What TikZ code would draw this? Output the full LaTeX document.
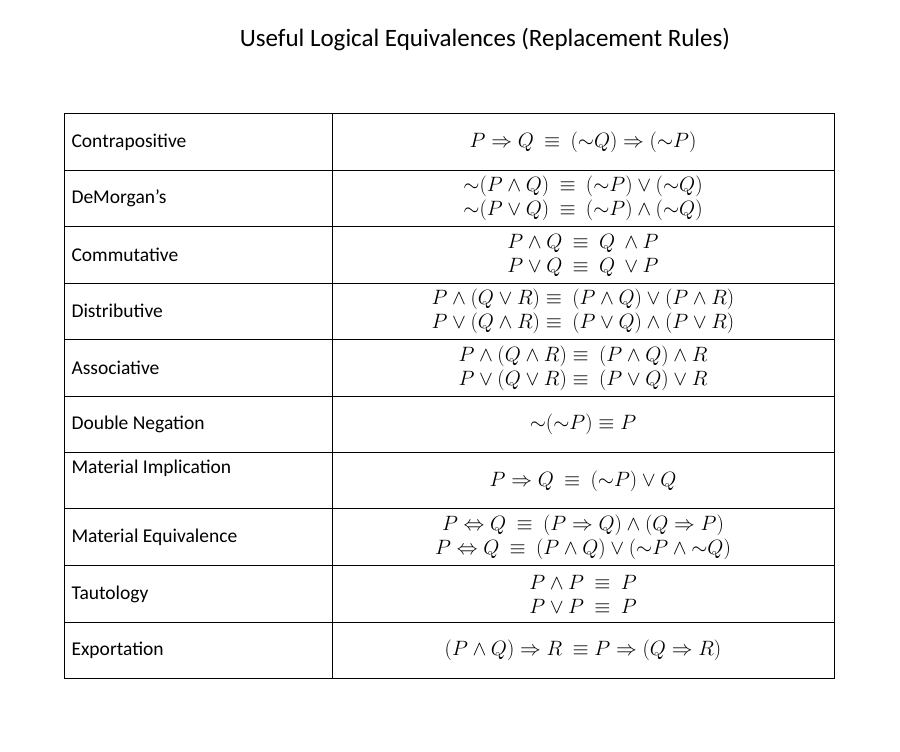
\documentclass[tikz,border=0pt]{standalone}
\usepackage{fontspec}
\setmainfont{Carlito}
\begin{document}
\begin{tikzpicture}[x=1pt,y=-1pt,
  lab/.style={anchor=west,font=\fontsize{19.5}{22}\selectfont},
  fml/.style={align=center,font=\fontsize{20}{24}\selectfont}]
\useasboundingbox (0,0) rectangle (900,752);
\node[font=\fontsize{25}{28}\selectfont] (title) at (485,40) {Useful Logical Equivalences (Replacement Rules)};
\draw[line width=0.8pt] (64,113) rectangle (834,678);
\draw[line width=0.8pt] (332,113) -- (332,678);
\foreach \y in {170,226,283,339,396,452,508,565,622}
  \draw[line width=0.8pt] (64,\y) -- (834,\y);
\node[lab] (l1) at (68,142) {Contrapositive};
\node[lab] (l2) at (68,198) {DeMorgan’s};
\node[lab] (l3) at (68,255) {Commutative};
\node[lab] (l4) at (68,311) {Distributive};
\node[lab] (l5) at (68,368) {Associative};
\node[lab] (l6) at (68,424) {Double Negation};
\node[lab] (l7) at (68,468) {Material Implication};
\node[lab] (l8) at (68,537) {Material Equivalence};
\node[lab] (l9) at (68,594) {Tautology};
\node[lab] (l10) at (68,650) {Exportation};
\node[fml] (f1) at (583,142) {$P\Rightarrow Q\ \equiv\ ({\sim}Q)\Rightarrow({\sim}P)$};
\node[fml] (f2) at (583,198) {${\sim}(P\wedge Q)\ \equiv\ ({\sim}P)\vee({\sim}Q)$\\${\sim}(P\vee Q)\ \equiv\ ({\sim}P)\wedge({\sim}Q)$};
\node[fml] (f3) at (583,255) {$P\wedge Q\ \equiv\ Q\ \wedge P$\\$P\vee Q\ \equiv\ Q\ \vee P$};
\node[fml] (f4) at (583,311) {$P\wedge(Q\vee R)\equiv\ (P\wedge Q)\vee(P\wedge R)$\\$P\vee(Q\wedge R)\equiv\ (P\vee Q)\wedge(P\vee R)$};
\node[fml] (f5) at (583,368) {$P\wedge(Q\wedge R)\equiv\ (P\wedge Q)\wedge R$\\$P\vee(Q\vee R)\equiv\ (P\vee Q)\vee R$};
\node[fml] (f6) at (583,424) {${\sim}({\sim}P)\equiv P$};
\node[fml] (f7) at (583,481) {$P\Rightarrow Q\ \equiv\ ({\sim}P)\vee Q$};
\node[fml] (f8) at (583,537) {$P\Leftrightarrow Q\ \equiv\ (P\Rightarrow Q)\wedge(Q\Rightarrow P)$\\$P\Leftrightarrow Q\ \equiv\ (P\wedge Q)\vee({\sim}P\wedge{\sim}Q)$};
\node[fml] (f9) at (583,594) {$P\wedge P\ \equiv\ P$\\$P\vee P\ \equiv\ P$};
\node[fml] (f10) at (583,650) {$(P\wedge Q)\Rightarrow R\ \equiv P\Rightarrow(Q\Rightarrow R)$};
\end{tikzpicture}
\end{document}
